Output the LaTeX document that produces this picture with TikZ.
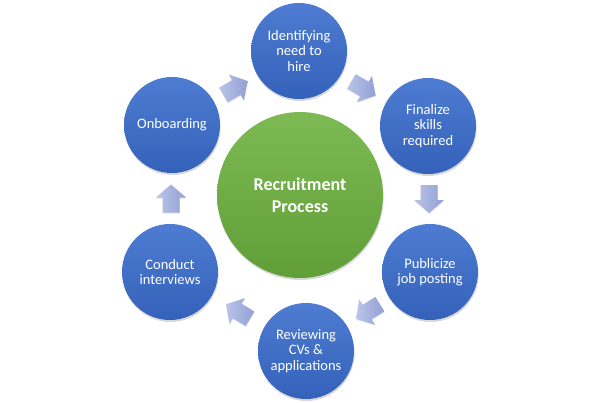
\documentclass[tikz,border=0pt]{standalone}
\usepackage{fontspec}
\setmainfont{Carlito}
\usetikzlibrary{shadows,calc}
\definecolor{bluetop}{RGB}{78,124,210}
\definecolor{bluebot}{RGB}{52,98,186}
\definecolor{greentop}{RGB}{126,186,84}
\definecolor{greenbot}{RGB}{96,158,56}
\definecolor{arrlight}{RGB}{186,196,232}
\definecolor{arrdark}{RGB}{146,160,212}
\tikzset{
  stage/.style={circle, minimum size=96pt, inner sep=0pt, top color=bluetop, bottom color=bluebot,
    text=white, align=center, font=\fontsize{14.5}{15.5}\selectfont,
    drop shadow={shadow xshift=0.6pt, shadow yshift=-2pt, opacity=0.3}},
  hub/.style={circle, minimum size=166pt, inner sep=0pt, top color=greentop, bottom color=greenbot,
    text=white, align=center, font=\fontsize{18}{22}\selectfont\bfseries,
    drop shadow={shadow xshift=0.6pt, shadow yshift=-2pt, opacity=0.3}},
  barrow/.pic={
    \path[left color=arrlight, right color=arrdark,
      drop shadow={shadow xshift=0.4pt, shadow yshift=-1pt, opacity=0.2}]
      (-14,-8.5) -- (1,-8.5) -- (1,-15) -- (14,0) -- (1,15) -- (1,8.5) -- (-14,8.5) -- cycle;
  }
}
\begin{document}
\begin{tikzpicture}[x=1pt,y=-1pt]
\useasboundingbox[fill=white] (0,0) rectangle (600,402);
\node[hub] (hubc) at (300,195) {Recruitment\\Process};
\node[stage] (ident) at (299,51) {Identifying\\need to\\hire};
\node[stage] (final) at (428,126) {Finalize\\skills\\required};
\node[stage] (publ) at (430,272) {Publicize\\job posting};
\node[stage] (rev) at (306,351) {Reviewing\\CVs \&\\applications};
\node[stage] (cond) at (170,272) {Conduct\\interviews};
\node[stage] (onb) at (172,125) {Onboarding};
\pic[rotate=30] (a1) at ($(onb)!0.5!(ident)$) {barrow};
\pic[rotate=-30] (a2) at ($(ident)!0.5!(final)$) {barrow};
\pic[rotate=-90] (a3) at ($(final)!0.5!(publ)$) {barrow};
\pic[rotate=212] (a4) at ($(publ)!0.5!(rev)$) {barrow};
\pic[rotate=149] (a5) at ($(rev)!0.5!(cond)$) {barrow};
\pic[rotate=90] (a6) at ($(cond)!0.5!(onb)$) {barrow};
\end{tikzpicture}
\end{document}
